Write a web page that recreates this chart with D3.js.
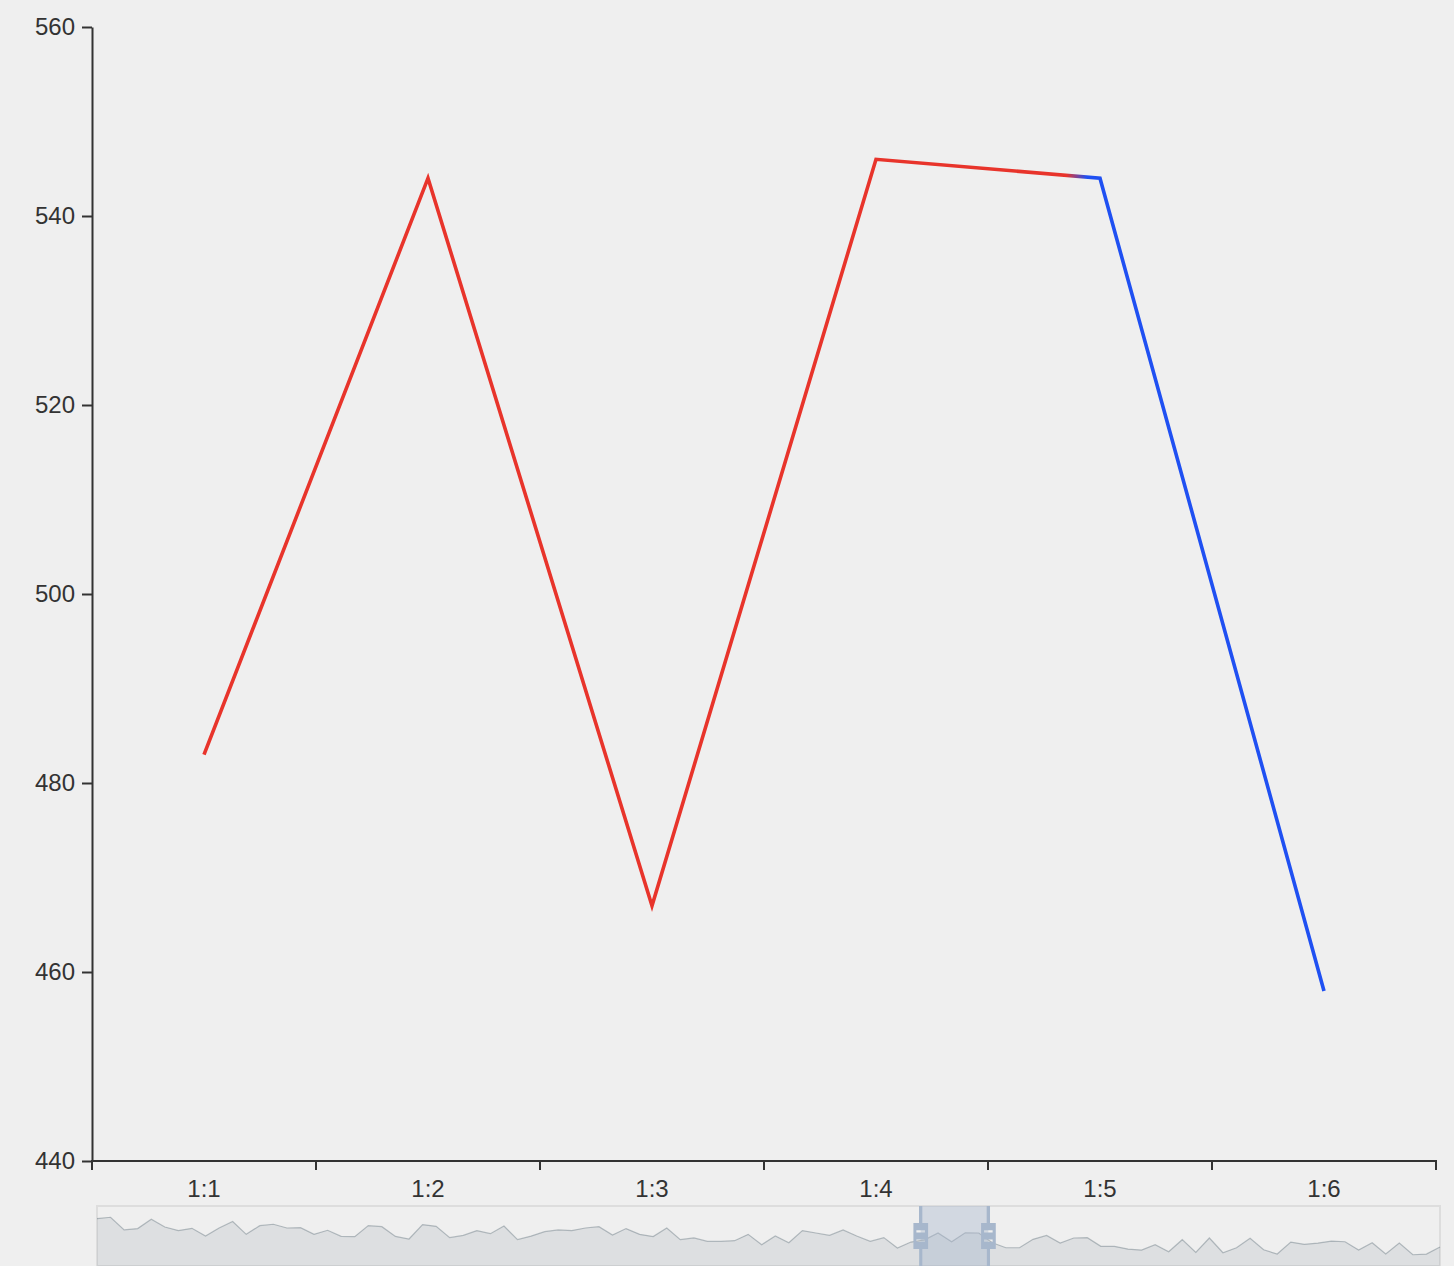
<!DOCTYPE html>
<html>
<head>
<meta charset="utf-8">
<script src="https://cdn.jsdelivr.net/npm/d3@7/dist/d3.min.js"></script>
<style>
html,body{margin:0;padding:0;background:#efefef;}
svg{display:block;}
text{font-family:"Liberation Sans", Arial, Helvetica, sans-serif;}
</style>
</head>
<body>
<svg id="chart" width="1454" height="1266"></svg>
<script>
// ---- data ----
const categories = ["1:1", "1:2", "1:3", "1:4", "1:5", "1:6"];
const values = [483, 544, 467, 546, 544, 458];
const yTicks = [440, 460, 480, 500, 520, 540, 560];
const yDomain = [440, 560];
// full series shown in the data-zoom overview (window = indices 61..66)
const overviewValues = [
  671, 683, 571, 583, 665, 597, 565, 585, 517, 588,
  645, 532, 609, 621, 588, 591, 532, 568, 514, 512,
  609, 600, 514, 491, 618, 603, 503, 523, 565, 538,
  606, 485, 517, 556, 571, 565, 588, 600, 526, 583,
  532, 512, 588, 485, 500, 470, 470, 476, 532, 441,
  517, 458, 565, 544, 523, 571, 517, 470, 503, 411,
  464, 483, 544, 467, 546, 544, 458, 414, 414, 488,
  523, 455, 500, 503, 426, 426, 402, 393, 441, 378,
  485, 373, 500, 370, 414, 497, 396, 358, 464, 444,
  455, 473, 467, 393, 458, 358, 455, 352, 358, 420
];
const zoomRange = [61.33, 66.37];          // percent of overview
const colorBreak = [3.85, 3.94];           // category position where red turns blue
const lineColors = ["#e8342b", "#1f50f2"];

// ---- layout ----
const svg = d3.select("#chart");
const W = 1454, H = 1266;
const plot = {left: 92, right: 1436, top: 27, bottom: 1161};
const slider = {left: 97, right: 1440, top: 1206, bottom: 1266};
const axisColor = "#333";

svg.append("rect").attr("width", W).attr("height", H).attr("fill", "#efefef");

const x = d3.scaleBand().domain(categories).range([plot.left, plot.right]).padding(0);
const xc = c => x(c) + x.bandwidth() / 2;
const xPos = idx => plot.left + x.bandwidth() * (idx + 0.5);
const y = d3.scaleLinear().domain(yDomain).range([plot.bottom, plot.top]);

// ---- gradient for visual map ----
const defs = svg.append("defs");
const grad = defs.append("linearGradient")
  .attr("id", "lineGrad").attr("gradientUnits", "userSpaceOnUse")
  .attr("x1", plot.left).attr("x2", plot.right).attr("y1", 0).attr("y2", 0);
const span = plot.right - plot.left;
grad.append("stop").attr("offset", 0).attr("stop-color", lineColors[0]);
grad.append("stop").attr("offset", (xPos(colorBreak[0]) - plot.left) / span).attr("stop-color", lineColors[0]);
grad.append("stop").attr("offset", (xPos(colorBreak[1]) - plot.left) / span).attr("stop-color", lineColors[1]);
grad.append("stop").attr("offset", 1).attr("stop-color", lineColors[1]);

// ---- y axis ----
const yAxis = d3.axisLeft(y).tickValues(yTicks).tickSize(10).tickSizeOuter(0).tickPadding(7);
const gy = svg.append("g").attr("transform", `translate(${plot.left},0)`).call(yAxis);
gy.select(".domain").attr("stroke", axisColor).attr("stroke-width", 2);
gy.selectAll(".tick line").attr("stroke", axisColor).attr("stroke-width", 2);
gy.selectAll(".tick text").attr("fill", axisColor).attr("font-size", 24)
  .attr("font-family", "'Liberation Sans', Arial, sans-serif");

// ---- x axis ----
const gx = svg.append("g");
gx.append("line").attr("x1", plot.left - 1).attr("x2", plot.right + 1)
  .attr("y1", plot.bottom).attr("y2", plot.bottom)
  .attr("stroke", axisColor).attr("stroke-width", 2);
const boundaries = categories.map(c => x(c)).concat([x(categories[categories.length - 1]) + x.bandwidth()]);
gx.selectAll("line.tick").data(boundaries).join("line").attr("class", "tick")
  .attr("x1", d => d).attr("x2", d => d)
  .attr("y1", plot.bottom).attr("y2", plot.bottom + 9)
  .attr("stroke", axisColor).attr("stroke-width", 2);
gx.selectAll("text").data(categories).join("text")
  .attr("x", d => xc(d)).attr("y", 1197)
  .attr("text-anchor", "middle").attr("font-size", 24).attr("fill", axisColor)
  .text(d => d);

// ---- main line ----
const line = d3.line().x((d, i) => xc(categories[i])).y(d => y(d));
svg.append("path").datum(values)
  .attr("d", line)
  .attr("fill", "none")
  .attr("stroke", "url(#lineGrad)")
  .attr("stroke-width", 3.6)
  .attr("stroke-linejoin", "miter");

// ---- data zoom slider ----
const n = overviewValues.length;
const sx = d3.scaleLinear().domain([0, n - 1]).range([slider.left, slider.right]);
const ext = d3.extent(overviewValues);
const delta = (ext[1] - ext[0]) * 0.3;
const sy = d3.scaleLinear().domain([ext[0] - delta, ext[1] + delta]).range([slider.bottom, slider.top]);

const sg = svg.append("g");
sg.append("rect").attr("x", slider.left).attr("y", slider.top)
  .attr("width", slider.right - slider.left).attr("height", slider.bottom - slider.top)
  .attr("fill", "none").attr("stroke", "#dddddd").attr("stroke-width", 2);

const area = d3.area().x((d, i) => sx(i)).y0(slider.bottom).y1(d => sy(d));
sg.append("path").datum(overviewValues).attr("d", area)
  .attr("fill", "rgba(47,69,84,0.09)");
const sline = d3.line().x((d, i) => sx(i)).y(d => sy(d));
sg.append("path").datum(overviewValues).attr("d", sline)
  .attr("fill", "none").attr("stroke", "rgba(47,69,84,0.3)").attr("stroke-width", 1.2);

const pctX = d3.scaleLinear().domain([0, 100]).range([slider.left, slider.right]);
const wx0 = pctX(zoomRange[0]), wx1 = pctX(zoomRange[1]);
sg.append("rect").attr("x", wx0).attr("y", slider.top)
  .attr("width", wx1 - wx0).attr("height", slider.bottom - slider.top)
  .attr("fill", "rgba(167,183,204,0.4)");

const handlePath = "M8.2,13.6V3.9H6.3v9.7H3.1v14.9h3.3v9.7h1.8v-9.7h3.3V13.6H8.2z M9.7,24.4H4.8v-1.4h4.9V24.4z M9.7,19.1H4.8v-1.4h4.9V19.1z";
const hs = (slider.bottom - slider.top) / 34.3;
[wx0, wx1].forEach(hx => {
  sg.append("path").attr("d", handlePath)
    .attr("fill", "#a7b7cc").attr("fill-rule", "evenodd")
    .attr("transform", `translate(${hx - 7.25 * hs},${slider.top - 3.9 * hs}) scale(${hs})`);
});
</script>
</body>
</html>
